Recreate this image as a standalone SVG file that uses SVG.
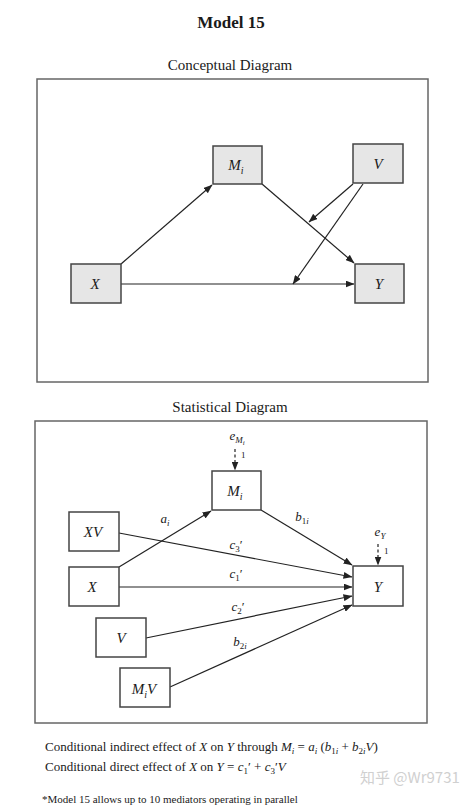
<svg xmlns="http://www.w3.org/2000/svg" width="472" height="807" viewBox="0 0 472 807">
<style>
text{font-family:"Liberation Serif","Times New Roman",serif;fill:#1a1a1a}
.frame{fill:none;stroke:#666;stroke-width:1.5}
.cbox{fill:#e6e6e6;stroke:#444;stroke-width:1.5}
.sbox{fill:#fff;stroke:#444;stroke-width:1.5}
.lbl{font-style:italic;font-size:15px;text-anchor:middle}
.coef{font-style:italic;font-size:13px;text-anchor:middle}
.ln{stroke:#222;stroke-width:1.2;fill:none;marker-end:url(#ah)}
.dash{stroke:#222;stroke-width:1.2;fill:none;stroke-dasharray:3,2.5;marker-end:url(#ah)}
.note{font-size:13px}
.i{font-style:italic}
</style>
<defs>
<marker id="ah" markerWidth="9" markerHeight="7" refX="8.5" refY="3.5" orient="auto" markerUnits="userSpaceOnUse">
<path d="M0,0 L9,3.5 L0,7 Z" fill="#222"/>
</marker>
</defs>
<text x="231" y="28" font-size="17" font-weight="bold" text-anchor="middle">Model 15</text>
<text x="230" y="70" font-size="15" text-anchor="middle">Conceptual Diagram</text>
<rect class="frame" x="37" y="79" width="391" height="303"/>
<text x="230" y="412" font-size="15" text-anchor="middle">Statistical Diagram</text>
<rect class="frame" x="35" y="421" width="392" height="302"/>

<g id="connectors">
<line class="ln" x1="121" y1="264" x2="212" y2="185"/>
<line class="ln" x1="262" y1="184" x2="354" y2="263"/>
<line class="ln" x1="121" y1="284" x2="354" y2="284"/>
<line class="ln" x1="353" y1="184" x2="309" y2="222"/>
<line class="ln" x1="363" y1="184" x2="293" y2="284"/>

<line class="ln" x1="119" y1="567" x2="211" y2="511"/>
<line class="ln" x1="261" y1="510" x2="352" y2="565"/>
<line class="ln" x1="119" y1="533" x2="352" y2="577"/>
<line class="ln" x1="119" y1="587" x2="352" y2="587"/>
<line class="ln" x1="146" y1="638" x2="352" y2="596"/>
<line class="ln" x1="170" y1="687" x2="352" y2="605"/>
<line class="dash" x1="235" y1="449" x2="235" y2="470"/>
<line class="dash" x1="378" y1="544" x2="378" y2="565"/>
</g>

<g id="c-M"><rect class="cbox" x="213" y="146" width="49" height="38"/><text class="lbl" x="236" y="170">M<tspan font-size="10" dy="4">i</tspan></text></g>
<g id="c-V"><rect class="cbox" x="353" y="144" width="50" height="39"/><text class="lbl" x="378" y="169">V</text></g>
<g id="c-X"><rect class="cbox" x="71" y="264" width="50" height="39"/><text class="lbl" x="95" y="289">X</text></g>
<g id="c-Y"><rect class="cbox" x="355" y="264" width="49" height="39"/><text class="lbl" x="379" y="289">Y</text></g>

<g id="s-M"><rect class="sbox" x="212" y="471" width="49" height="39"/><text class="lbl" x="235" y="496">M<tspan font-size="10" dy="4">i</tspan></text></g>
<g id="s-XV"><rect class="sbox" x="69" y="512" width="50" height="39"/><text class="lbl" x="93" y="537">XV</text></g>
<g id="s-X"><rect class="sbox" x="69" y="567" width="50" height="39"/><text class="lbl" x="92" y="592">X</text></g>
<g id="s-Y"><rect class="sbox" x="353" y="566" width="50" height="40"/><text class="lbl" x="378" y="592">Y</text></g>
<g id="s-V"><rect class="sbox" x="96" y="618" width="50" height="39"/><text class="lbl" x="121" y="643">V</text></g>
<g id="s-MiV"><rect class="sbox" x="120" y="668" width="50" height="39"/><text class="lbl" x="144" y="694">M<tspan font-size="10" dy="4">i</tspan><tspan dy="-4">V</tspan></text></g>

<g id="e-M"><text class="coef" x="237" y="440">e<tspan font-size="9" dy="3">M</tspan><tspan font-size="7" dy="2">i</tspan></text><text x="241" y="458" font-size="9">1</text></g>
<g id="e-Y"><text class="coef" x="380" y="536">e<tspan font-size="9" dy="3">Y</tspan></text><text x="384" y="554" font-size="9">1</text></g>

<g id="labels">
<text class="coef" x="165" y="523">a<tspan font-size="9" dy="3">i</tspan></text>
<text class="coef" x="302" y="521">b<tspan font-size="9" dy="3" font-style="normal">1</tspan><tspan font-size="9">i</tspan></text>
<text class="coef" x="236" y="549">c<tspan font-size="9" dy="3" font-style="normal">3</tspan><tspan dy="-3" font-style="normal">′</tspan></text>
<text class="coef" x="236" y="578">c<tspan font-size="9" dy="3" font-style="normal">1</tspan><tspan dy="-3" font-style="normal">′</tspan></text>
<text class="coef" x="238" y="611">c<tspan font-size="9" dy="3" font-style="normal">2</tspan><tspan dy="-3" font-style="normal">′</tspan></text>
<text class="coef" x="240" y="646">b<tspan font-size="9" dy="3" font-style="normal">2</tspan><tspan font-size="9">i</tspan></text>
</g>

<text class="note" x="45" y="751">Conditional indirect effect of <tspan class="i">X</tspan> on <tspan class="i">Y</tspan> through <tspan class="i">M</tspan><tspan class="i" font-size="9" dy="3">i</tspan><tspan dy="-3"> = </tspan><tspan class="i">a</tspan><tspan class="i" font-size="9" dy="3">i</tspan><tspan dy="-3"> (</tspan><tspan class="i">b</tspan><tspan font-size="9" dy="3">1</tspan><tspan class="i" font-size="9">i</tspan><tspan dy="-3"> + </tspan><tspan class="i">b</tspan><tspan font-size="9" dy="3">2</tspan><tspan class="i" font-size="9">i</tspan><tspan class="i" dy="-3">V</tspan>)</text>
<text class="note" x="45" y="771">Conditional direct effect of <tspan class="i">X</tspan> on <tspan class="i">Y</tspan> = <tspan class="i">c</tspan><tspan font-size="9" dy="3">1</tspan><tspan dy="-3">′ + </tspan><tspan class="i">c</tspan><tspan font-size="9" dy="3">3</tspan><tspan dy="-3">′</tspan><tspan class="i">V</tspan></text>
<text x="360" y="783" font-size="15" fill="#d0d0d0" style="fill:#d0d0d0;font-family:'Noto Sans CJK SC','Liberation Sans',sans-serif">知乎 @Wr9731</text>
<text x="42" y="803" font-size="11">*Model 15 allows up to 10 mediators operating in parallel</text>
</svg>
